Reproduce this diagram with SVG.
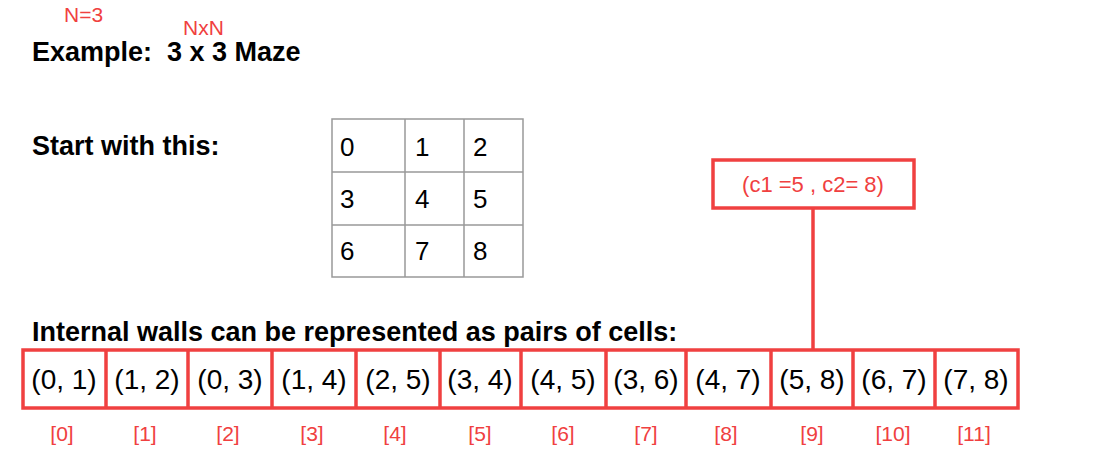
<svg xmlns="http://www.w3.org/2000/svg" width="1094" height="450" viewBox="0 0 1094 450">
<style>
.r{fill:none;stroke:#f04040;stroke-width:3.5}
.red{fill:#f04040;font-family:"Liberation Sans",Arial,sans-serif;font-size:21px}
.b{font-family:"Liberation Sans",Arial,sans-serif;font-weight:bold;font-size:27px;fill:#000}
.t{font-family:"Liberation Sans",Arial,sans-serif;font-size:28px;fill:#000}
.g{stroke:#999;stroke-width:1.5;fill:none}
</style>
<rect width="1094" height="450" fill="#fff"/>
<text class="red" x="64" y="22">N=3</text>
<text class="red" x="183" y="35">NxN</text>
<text class="b" x="32" y="61" xml:space="preserve">Example:  3 x 3 Maze</text>
<text class="b" x="32" y="155">Start with this:</text>
<text class="b" x="32" y="341">Internal walls can be represented as pairs of cells:</text>
<g id="grid">
<rect class="g" x="332" y="119" width="191" height="158"/>
<path class="g" d="M405 119V277M464 119V277M332 172H523M332 225H523"/>
<g class="t" style="font-size:26px">
<text x="340" y="156">0</text><text x="415" y="156">1</text><text x="473" y="156">2</text>
<text x="340" y="208">3</text><text x="415" y="208">4</text><text x="473" y="208">5</text>
<text x="340" y="260">6</text><text x="415" y="260">7</text><text x="473" y="260">8</text>
</g>
</g>
<g id="connectors"><line class="r" x1="813" y1="208" x2="813" y2="350"/></g>
<g id="callout"><rect class="r" x="713" y="160" width="201" height="48"/><text class="red" x="813" y="192" text-anchor="middle" style="font-size:22px">(c1 =5 , c2= 8)</text></g>
<g id="pairs" class="t" text-anchor="middle">
<rect class="r" x="23" y="350" width="995" height="58"/>
<path class="r" d="M106 350V408M188 350V408M272 350V408M356 350V408M440 350V408M521 350V408M606 350V408M686 350V408M771 350V408M853 350V408M935 350V408"/>
<text x="64" y="389">(0, 1)</text><text x="147" y="389">(1, 2)</text><text x="230" y="389">(0, 3)</text><text x="314" y="389">(1, 4)</text><text x="398" y="389">(2, 5)</text><text x="480" y="389">(3, 4)</text><text x="563" y="389">(4, 5)</text><text x="646" y="389">(3, 6)</text><text x="728" y="389">(4, 7)</text><text x="812" y="389">(5, 8)</text><text x="894" y="389">(6, 7)</text><text x="976" y="389">(7, 8)</text>
</g>
<g class="red" text-anchor="middle">
<text x="62" y="441">[0]</text><text x="145" y="441">[1]</text><text x="228" y="441">[2]</text><text x="312" y="441">[3]</text><text x="395" y="441">[4]</text><text x="480" y="441">[5]</text><text x="563" y="441">[6]</text><text x="646" y="441">[7]</text><text x="726" y="441">[8]</text><text x="812" y="441">[9]</text><text x="893" y="441">[10]</text><text x="974" y="441">[11]</text>
</g>
</svg>
